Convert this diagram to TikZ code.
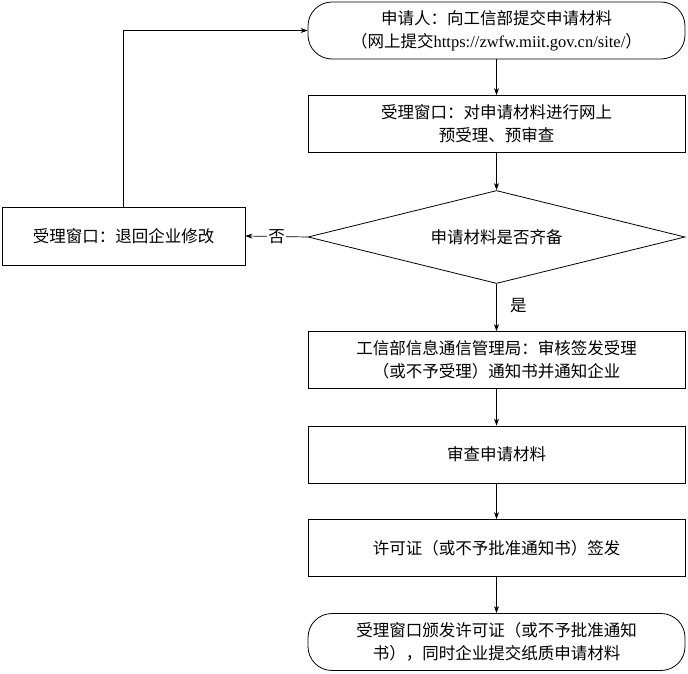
\documentclass[tikz,border=0pt]{standalone}
\usepackage{fontspec}
\setmainfont{Liberation Serif}
\newfontfamily\cjk{Noto Sans CJK SC}
\usetikzlibrary{shapes.geometric,arrows.meta}
\begin{document}
\begin{tikzpicture}[x=1pt,y=-1pt,
  every node/.style={font=\cjk\fontsize{16.5}{23}\selectfont,align=center},
  box/.style={draw,line width=0.8pt,minimum width=377pt,minimum height=57pt},
  rbox/.style={box,rounded corners=24pt},
  arr/.style={-{Stealth[length=7pt,width=5pt]},line width=0.7pt}]
\useasboundingbox (0,0) rectangle (688,674);
\node[rbox] (a) at (496.5,30.5) {申请人：向工信部提交申请材料\\（网上提交{\rmfamily https://zwfw.miit.gov.cn/site/}）};
\node[box] (b) at (496.5,124) {受理窗口：对申请材料进行网上\\预受理、预审查};
\node[diamond,draw,line width=0.8pt,minimum width=377pt,minimum height=93pt,aspect=4,inner sep=0pt] (c) at (496.5,237) {};
\node at (c.center) {申请材料是否齐备};
\node[draw,line width=0.8pt,minimum width=243pt,minimum height=58pt] (l) at (123.5,236) {受理窗口：退回企业修改};
\node[box] (d) at (496.5,360) {工信部信息通信管理局：审核签发受理\\（或不予受理）通知书并通知企业};
\node[box] (e) at (496.5,454.5) {审查申请材料};
\node[box] (f) at (496.5,548) {许可证（或不予批准通知书）签发};
\node[rbox] (g) at (496.5,642) {受理窗口颁发许可证（或不予批准通知\\书），同时企业提交纸质申请材料};
\draw[arr] (a) -- (b);
\draw[arr] (b) -- (c);
\draw[arr] (c) -- node[pos=0.45,right=10pt] {是} (d);
\draw[arr] (d) -- (e);
\draw[arr] (e) -- (f);
\draw[arr] (f) -- (g);
\draw[arr] (c.west) -- node[fill=white,inner sep=1pt,pos=0.5] {否} (l.east);
\draw[arr] (l.north) |- (a.west);
\end{tikzpicture}
\end{document}
